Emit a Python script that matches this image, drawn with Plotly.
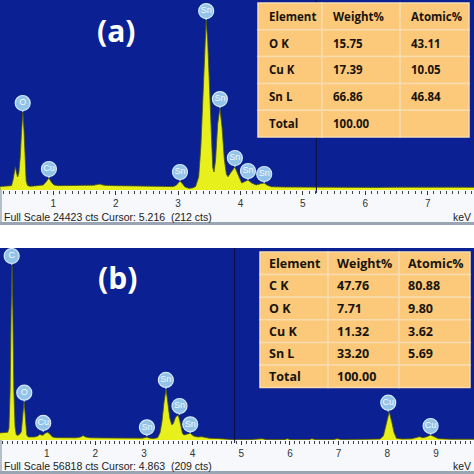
import plotly.graph_objects as go

# ---------------- DATA ----------------
# Panel (a) spectrum: energy (keV) and counts
a_kev = [0.15, 0.25, 0.33, 0.355, 0.375, 0.392, 0.408, 0.428, 0.448, 0.470, 0.492, 0.512, 0.530, 0.548,
         0.565, 0.585, 0.62, 0.70, 0.78, 0.84, 0.88, 0.93, 0.97, 1.01, 1.08, 1.2, 1.35, 1.5, 1.65, 1.74,
         1.82, 2.0, 2.2, 2.4, 2.6, 2.8, 2.92, 2.97, 3.00, 3.03, 3.07, 3.11, 3.17, 3.23, 3.28, 3.33, 3.365,
         3.395, 3.425, 3.45, 3.475, 3.505, 3.535, 3.555, 3.575, 3.60, 3.635, 3.67, 3.705, 3.74, 3.775, 3.80,
         3.85, 3.91, 3.96, 4.02, 4.07, 4.12, 4.18, 4.25, 4.32, 4.38, 4.43, 4.50, 4.7, 5.0, 5.3, 5.6, 5.9,
         6.2, 6.5, 6.8, 7.0, 7.3, 7.5, 7.75]
a_cts = [450, 480, 560, 1300, 2400, 2990, 2300, 1670, 2200, 4200, 7600, 10025, 7800, 3600,
         1200, 600, 480, 520, 560, 650, 1000, 1542, 1000, 650, 560, 600, 580, 600, 620, 760,
         600, 560, 540, 500, 450, 430, 440, 600, 950, 1157, 800, 400, 220, 260, 450, 1700, 5600,
         12000, 19000, 21845, 19000, 12000, 5600, 2900, 2313, 3800, 8500, 10537, 8000, 4000, 2000, 1709,
         2300, 2956, 2000, 900, 1100, 1285, 900, 640, 800, 900, 600, 420, 380, 360, 340, 380, 350,
         330, 360, 380, 350, 340, 360, 340]
a_full_scale = 24423
a_cursor_kev = 5.216
a_footer = "Full Scale 24423 cts Cursor: 5.216\u00a0\u00a0(212 cts)"
a_peak_kev = [0.51, 0.93, 3.03, 3.45, 3.67, 3.91, 4.12, 4.38]
a_peak_cts = [10025, 1542, 1157, 21845, 10537, 2956, 1285, 900]
a_peak_name = ["O", "Cu", "Sn", "Sn", "Sn", "Sn", "Sn", "Sn"]
a_ticks = [1, 2, 3, 4, 5, 6, 7]

# Panel (b) spectrum
b_kev = [0.04, 0.12, 0.20, 0.225, 0.25, 0.27, 0.288, 0.305, 0.325, 0.35, 0.375, 0.40, 0.45, 0.48, 0.50,
         0.52, 0.534, 0.55, 0.57, 0.59, 0.62, 0.68, 0.75, 0.82, 0.86, 0.90, 0.93, 0.97, 1.02, 1.07, 1.12,
         1.2, 1.4, 1.6, 1.70, 1.75, 1.80, 1.9, 2.2, 2.5, 2.8, 2.97, 3.05, 3.12, 3.20, 3.28, 3.33, 3.37,
         3.41, 3.453, 3.49, 3.53, 3.57, 3.60, 3.65, 3.705, 3.75, 3.79, 3.82, 3.88, 3.95, 4.02, 4.10, 4.19,
         4.26, 4.35, 4.5, 4.65, 4.8, 5.2, 5.43, 5.5, 5.9, 5.94, 6.0, 6.4, 6.45, 6.52, 6.9, 6.97, 7.05,
         7.5, 7.85, 7.92, 7.97, 8.04, 8.09, 8.14, 8.19, 8.3, 8.5, 8.6, 8.66, 8.73, 8.80, 8.89, 8.96, 9.05,
         9.3, 9.6, 9.78]
b_cts = [2100, 2200, 2300, 3500, 15000, 38000, 51787, 38000, 15000, 4000, 1600, 1300, 1800, 2500, 6000,
         10500, 11334, 9000, 4000, 1500, 900, 800, 900, 1200, 1700, 1400, 1500, 2000, 2300, 1700, 900,
         700, 650, 650, 900, 1300, 900, 650, 600, 550, 500, 550, 850, 550, 450, 700, 2200, 5500,
         11000, 15100, 11000, 6500, 4500, 4800, 6800, 7400, 4800, 2000, 1480, 1700, 1980, 1200, 900, 980,
         700, 500, 450, 300, 150, 150, 400, 150, 150, 400, 150, 150, 400, 150, 150, 400, 150,
         200, 300, 1200, 4500, 8375, 5500, 2200, 500, 300, 350, 800, 980, 700, 900, 1480, 900, 400,
         250, 250, 250]
b_full_scale = 56818
b_cursor_kev = 4.863
b_footer = "Full Scale 56818 cts Cursor: 4.863\u00a0\u00a0(209 cts)"
b_peak_kev = [0.281, 0.54, 0.93, 3.06, 3.45, 3.73, 3.95, 8.02, 8.89]
b_peak_cts = [51787, 11334, 2400, 1100, 15100, 7400, 1980, 8375, 1480]
b_peak_name = ["C", "O", "Cu", "Sn", "Sn", "Sn", "Sn", "Cu", "Cu"]
b_ticks = [1, 2, 3, 4, 5, 6, 7, 8, 9]

# Tables
table_header = ["Element", "Weight%", "Atomic%"]
a_elements = ["O K", "Cu K", "Sn L", "Total"]
a_weight = ["15.75", "17.39", "66.86", "100.00"]
a_atomic = ["43.11", "10.05", "46.84", ""]
b_elements = ["C K", "O K", "Cu K", "Sn L", "Total"]
b_weight = ["47.76", "7.71", "11.32", "33.20", "100.00"]
b_atomic = ["80.88", "9.80", "3.62", "5.69", ""]

# ---------------- STYLE / LAYOUT ----------------
W = H = 474
BLUE = "#0b2093"
YELLOW = "#e8f01c"
OUTLINE = "#4a5608"
BUBBLE = "#92c3e8"
ORANGE = "#fcc87a"
GRID = "#f6dcae"
BOLD_FONT = "Open Sans"


def py(px):
    return 1 - px / H


def pxx(px):
    return px / W


# panel geometry in pixels
A_TOP, A_BOT, A_STRIP_BOT = 0, 190, 222
B_TOP, B_BOT, B_STRIP_BOT = 248, 440, 471
A_RANGE = [0.146, 7.742]
B_RANGE = [0.041, 9.782]

fig = go.Figure()


def add_panel(kev, cts, full, peak_kev, peak_cts, names, top, bot, xa, ya):
    fig.add_trace(go.Scatter(x=kev, y=cts, mode="lines", fill="tozeroy", fillcolor=YELLOW,
                             line=dict(color=OUTLINE, width=0.8), xaxis=xa, yaxis=ya,
                             hoverinfo="skip", showlegend=False))
    per_px = full / (bot - top)
    off = 9 * per_px
    sx, sy = [], []
    for k, c in zip(peak_kev, peak_cts):
        sx += [k, k, None]
        sy += [c, c + off, None]
    fig.add_trace(go.Scatter(x=sx, y=sy, mode="lines", line=dict(color=BUBBLE, width=1.5),
                             xaxis=xa, yaxis=ya, hoverinfo="skip", showlegend=False))
    fig.add_trace(go.Scatter(x=peak_kev, y=[c + off for c in peak_cts], mode="markers+text",
                             text=names, textposition="middle center",
                             textfont=dict(family="Liberation Sans", size=9, color="#f4f9ff"),
                             marker=dict(size=15, color=BUBBLE, line=dict(color="#d6eaf8", width=1.2)),
                             xaxis=xa, yaxis=ya, hoverinfo="skip", showlegend=False))


add_panel(a_kev, a_cts, a_full_scale, a_peak_kev, a_peak_cts, a_peak_name, A_TOP, A_BOT, "x", "y")
add_panel(b_kev, b_cts, b_full_scale, b_peak_kev, b_peak_cts, b_peak_name, B_TOP, B_BOT, "x2", "y2")

axis_common = dict(showgrid=False, zeroline=False, showline=False, ticks="outside", ticklen=4,
                   tickcolor="#333333", tickwidth=1,
                   tickfont=dict(family="Liberation Sans", size=10, color="#333333"),
                   minor=dict(dtick=0.1, ticks="outside", ticklen=3, tickcolor="#444444", tickwidth=1))

fig.update_layout(
    width=W, height=H, margin=dict(l=0, r=0, t=0, b=0),
    paper_bgcolor="white", plot_bgcolor=BLUE,
    xaxis=dict(domain=[0, 1], range=A_RANGE, anchor="y", tickvals=a_ticks, **axis_common),
    yaxis=dict(domain=[py(A_BOT), py(A_TOP)], range=[0, a_full_scale], visible=False, fixedrange=True),
    xaxis2=dict(domain=[0, 1], range=B_RANGE, anchor="y2", tickvals=b_ticks, **axis_common),
    yaxis2=dict(domain=[py(B_BOT), py(B_TOP)], range=[0, b_full_scale], visible=False, fixedrange=True),
)

shapes = []
annotations = []

# axis strips and borders
for bot, sbot in [(A_BOT, A_STRIP_BOT), (B_BOT, B_STRIP_BOT)]:
    shapes.append(dict(type="rect", xref="paper", yref="paper", x0=0, x1=1, y0=py(sbot), y1=py(bot),
                       fillcolor="#f6f8fb", line=dict(width=0), layer="below"))
    shapes.append(dict(type="rect", xref="paper", yref="paper", x0=0, x1=1, y0=py(sbot + 3), y1=py(sbot),
                       fillcolor="#9aa5b3", line=dict(width=0), layer="below"))
    shapes.append(dict(type="rect", xref="paper", yref="paper", x0=0, x1=pxx(2), y0=py(sbot), y1=py(bot),
                       fillcolor="#b5bec9", line=dict(width=0), layer="below"))

# cursor lines
shapes.append(dict(type="line", xref="x", yref="paper", x0=a_cursor_kev, x1=a_cursor_kev,
                   y0=py(A_BOT + 3), y1=py(A_TOP), line=dict(color="#0a1240", width=1)))
shapes.append(dict(type="line", xref="x2", yref="paper", x0=b_cursor_kev, x1=b_cursor_kev,
                   y0=py(B_BOT + 3), y1=py(B_TOP), line=dict(color="#0a1240", width=1)))


def add_table(cols_px, top, row_h, columns, fsize, pad):
    nrows = len(columns[0])
    for r in range(nrows):
        for c in range(3):
            x0, x1 = cols_px[c], cols_px[c + 1]
            y0, y1 = top + r * row_h, top + (r + 1) * row_h
            shapes.append(dict(type="rect", xref="paper", yref="paper", x0=pxx(x0), x1=pxx(x1),
                               y0=py(y1), y1=py(y0), fillcolor=ORANGE, line=dict(color=GRID, width=1.5)))
            txt = columns[c][r]
            if txt:
                annotations.append(dict(xref="paper", yref="paper", x=pxx(x0 + pad), y=py((y0 + y1) / 2),
                                        xanchor="left", yanchor="middle", showarrow=False,
                                        text="<b>" + txt + "</b>",
                                        font=dict(family=BOLD_FONT, size=fsize, color="#17130d")))


add_table([258, 322, 400, 469], 3, 26.8,
          [[table_header[0]] + a_elements, [table_header[1]] + a_weight, [table_header[2]] + a_atomic], 11.5, 8.5)
add_table([260, 328, 399, 470], 252, 22.6,
          [[table_header[0]] + b_elements, [table_header[1]] + b_weight, [table_header[2]] + b_atomic], 12.5, 7)

# panel labels
annotations.append(dict(xref="paper", yref="paper", x=pxx(116), y=py(30), xanchor="center", yanchor="middle",
                        showarrow=False, text="<b>(a)</b>",
                        font=dict(family=BOLD_FONT, size=30, color="white")))
annotations.append(dict(xref="paper", yref="paper", x=pxx(117), y=py(277), xanchor="center", yanchor="middle",
                        showarrow=False, text="<b>(b)</b>",
                        font=dict(family=BOLD_FONT, size=30, color="white")))

# footers
for txt, ypx in [(a_footer, 217), (b_footer, 466)]:
    annotations.append(dict(xref="paper", yref="paper", x=pxx(2), y=py(ypx), xanchor="left", yanchor="middle",
                            showarrow=False, text=txt,
                            font=dict(family="Liberation Sans", size=10.5, color="#222222")))
    annotations.append(dict(xref="paper", yref="paper", x=pxx(473), y=py(ypx), xanchor="right", yanchor="middle",
                            showarrow=False, text="keV",
                            font=dict(family="Liberation Sans", size=10.5, color="#222222")))

fig.update_layout(shapes=shapes, annotations=annotations)
fig.write_html("out.html")
